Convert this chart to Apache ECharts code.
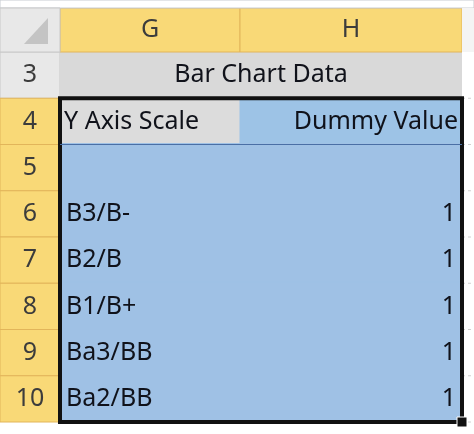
<!DOCTYPE html>
<html><head><meta charset="utf-8">
<script src="https://cdn.jsdelivr.net/npm/echarts@6/dist/echarts.min.js"></script>
<style>html,body{margin:0;padding:0;background:#fff}#c{width:474px;height:434px}</style>
</head><body><div id="c"></div>
<script>
const columns = ['G', 'H'];
const rowNumbers = ['3', '4', '5', '6', '7', '8', '9', '10'];
const scaleLabels = ['', 'B3/B-', 'B2/B', 'B1/B+', 'Ba3/BB', 'Ba2/BB'];
const dummyValues = [null, 1, 1, 1, 1, 1];
const title = 'Bar Chart Data';
const headers = ['Y Axis Scale', 'Dummy Value'];

const FONT = '25px "Noto Sans", sans-serif';
const split = 180 / 402;
const data = rowNumbers.map((r, i) => [i, r]);

const chart = echarts.init(document.getElementById('c'));
chart.setOption({
  animation: false,
  grid: { left: 60, right: 12, top: 52, bottom: 12 },
  xAxis: { type: 'value', min: 0, max: 1, show: false },
  yAxis: { type: 'category', data: rowNumbers, inverse: true, show: false },
  graphic: [
    { type: 'rect', shape: { x: 0, y: 0, width: 474, height: 8 }, style: { fill: '#fff', stroke: '#c8ccd2' }, z: 10 },
    { type: 'rect', shape: { x: 0, y: 8, width: 60, height: 44 }, style: { fill: '#e8e8e8', stroke: '#c8c8c8' }, z: 10 },
    { type: 'polygon', shape: { points: [[48, 18], [48, 44], [24, 44]] }, style: { fill: '#c4c4c4' }, z: 11 },
    { type: 'rect', shape: { x: 462, y: 8, width: 12, height: 44 }, style: { fill: '#f4f4f4' }, z: 10 }
  ],
  series: [{
    type: 'custom',
    clip: false,
    data: data,
    encode: { y: 0 },
    renderItem: function (params, api) {
      const i = api.value(0);
      const p0 = api.coord([0, i]);
      const p1 = api.coord([1, i]);
      const h = api.size([0, 1])[1];
      const top = p0[1] - h / 2;
      const xl = p0[0], xr = p1[0], xm = xl + (xr - xl) * split;
      const ch = [];
      const txt = (t, x, y, align, col) => ({ type: 'text', z2: 5, style: { text: t, x: x, y: y, align: align, verticalAlign: 'middle', font: FONT, fill: col || '#10121a' } });
      ch.push({ type: 'rect', shape: { x: 0, y: top, width: xl, height: h }, style: { fill: i === 0 ? '#e8e8e8' : '#f9d977', stroke: i === 0 ? '#c8c8c8' : '#e2b55a', lineWidth: 1 } });
      ch.push(txt(rowNumbers[i], 30, top + h / 2, 'center', '#3c3c3c'));
      if (i === 0) {
        ch.push({ type: 'rect', shape: { x: xl, y: top, width: xr - xl, height: h }, style: { fill: '#d9d9d9' } });
        ch.push(txt(title, (xl + xr) / 2, top + h / 2, 'center'));
        ch.push({ type: 'rect', shape: { x: xl, y: 8, width: xm - xl, height: 44 }, style: { fill: '#f9d977', stroke: '#e2b55a' } });
        ch.push({ type: 'rect', shape: { x: xm, y: 8, width: xr - xm, height: 44 }, style: { fill: '#f9d977', stroke: '#e2b55a' } });
        ch.push(txt(columns[0], (xl + xm) / 2, 30, 'center', '#3c3c3c'));
        ch.push(txt(columns[1], (xm + xr) / 2, 30, 'center', '#3c3c3c'));
      } else if (i === 1) {
        ch.push({ type: 'rect', shape: { x: xl, y: top, width: xm - xl, height: h }, style: { fill: '#dcdcdc', stroke: '#dcdcdc' } });
        ch.push({ type: 'rect', shape: { x: xm, y: top, width: xr - xm, height: h }, style: { fill: '#9dc3e6', stroke: '#9dc3e6' } });
        ch.push(txt(headers[0], xl + 4, top + h / 2, 'left'));
        ch.push(txt(headers[1], xr - 4, top + h / 2, 'right'));
      } else {
        const k = i - 2;
        ch.push({ type: 'rect', shape: { x: xl, y: top - 1, width: xr - xl, height: h + 1 }, style: { fill: '#9fc1e5', stroke: '#9fc1e5' } });
        ch.push(txt(scaleLabels[k], xl + 6, top + h / 2, 'left'));
        if (dummyValues[k] != null) ch.push(txt(String(dummyValues[k]), xr - 6, top + h / 2, 'right'));
      }
      ch.push({ type: 'line', shape: { x1: xr, y1: top + h, x2: 474, y2: top + h }, style: { stroke: '#d0d0d0', lineDash: [3, 3] } });
      if (i === rowNumbers.length - 1) {
        const t1 = api.coord([0, 1])[1] - h / 2;
        ch.push({ type: 'rect', z2: 8, shape: { x: xl, y: t1, width: xr - xl, height: top + h - t1 }, style: { fill: 'none', stroke: '#111', lineWidth: 4 } });
        ch.push({ type: 'rect', z2: 9, shape: { x: xr - 5, y: top + h - 5, width: 10, height: 10 }, style: { fill: '#111', stroke: '#fff' } });
        ch.push({ type: 'line', z2: 8, shape: { x1: xl, y1: t1 + h, x2: xr, y2: t1 + h }, style: { stroke: '#4a6fa5', lineWidth: 1 } });
      }
      return { type: 'group', children: ch };
    }
  }]
});
</script></body></html>
